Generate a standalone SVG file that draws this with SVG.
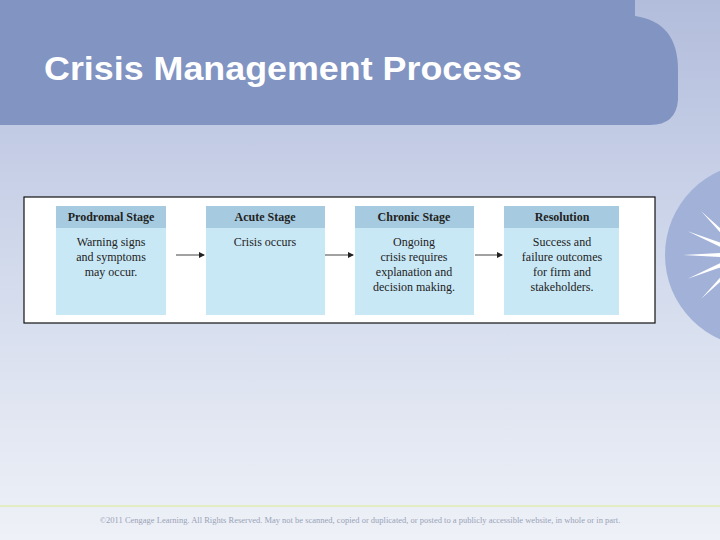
<svg xmlns="http://www.w3.org/2000/svg" width="720" height="540" viewBox="0 0 720 540">
<defs>
<linearGradient id="bg" x1="0" y1="0" x2="0" y2="1"><stop offset="0" stop-color="#b2bddc"/><stop offset="0.5" stop-color="#d2daec"/><stop offset="1" stop-color="#eef1f7"/></linearGradient>
<marker id="ah" markerWidth="6" markerHeight="6" refX="5" refY="3" orient="auto"><path d="M0,0 L6,3 L0,6 z" fill="#222"/></marker>
<style>
.hd{fill:#a6cbe0}.bd{fill:#c9e8f6}
.ht{font-family:"Liberation Serif",serif;font-weight:bold;font-size:12px;fill:#222;text-anchor:middle}
.bt{font-family:"Liberation Serif",serif;font-size:12px;fill:#222;text-anchor:middle}
.cn{stroke:#444;stroke-width:1;fill:none;marker-end:url(#ah)}
</style>
</defs>
<rect width="720" height="540" fill="url(#bg)"/>
<path d="M0,0 H635 V16 Q678,22 678,70 V100 Q676,125 650,125 H0 Z" fill="#8194c2"/>
<text x="44" y="80" font-family="Liberation Sans,Arial,sans-serif" font-weight="bold" font-size="34" fill="#fff" textLength="478" lengthAdjust="spacingAndGlyphs">Crisis Management Process</text>
<circle cx="757" cy="255" r="92" fill="#a2b1d8"/>
<g transform="translate(-12,0)"><polygon fill="#fff" points="819,255 770.7,257.7 814.3,278.7 768.6,262.8 800.8,298.8 764.8,266.6 780.7,312.3 759.7,268.7 757,317 754.3,268.7 733.3,312.3 749.2,266.6 713.2,298.8 745.4,262.8 699.7,278.7 743.3,257.7 695,255 743.3,252.3 699.7,231.3 745.4,247.2 713.2,211.2 749.2,243.4 733.3,197.7 754.3,241.3 757,193 759.7,241.3 780.7,197.7 764.8,243.4 800.8,211.2 768.6,247.2 814.3,231.3 770.7,252.3"/></g>
<line x1="0" y1="506" x2="720" y2="506" stroke="#e4ecc4" stroke-width="2"/>
<text x="360" y="523" font-family="Liberation Serif,serif" font-size="8.5" fill="#9aa3b8" text-anchor="middle">©2011 Cengage Learning. All Rights Reserved. May not be scanned, copied or duplicated, or posted to a publicly accessible website, in whole or in part.</text>
<rect x="24" y="197" width="631" height="126" fill="#fff" stroke="#111" stroke-width="1.2"/>
<g id="n1"><rect class="hd" x="56" y="206" width="110" height="22"/><rect class="bd" x="56" y="228" width="110" height="87"/><text class="ht" x="111" y="221">Prodromal Stage</text><text class="bt" x="111" y="246">Warning signs</text><text class="bt" x="111" y="261">and symptoms</text><text class="bt" x="111" y="276">may occur.</text></g>
<g id="n2"><rect class="hd" x="206" y="206" width="119" height="22"/><rect class="bd" x="206" y="228" width="119" height="87"/><text class="ht" x="265" y="221">Acute Stage</text><text class="bt" x="265" y="246">Crisis occurs</text></g>
<g id="n3"><rect class="hd" x="355" y="206" width="119" height="22"/><rect class="bd" x="355" y="228" width="119" height="87"/><text class="ht" x="414" y="221">Chronic Stage</text><text class="bt" x="414" y="246">Ongoing</text><text class="bt" x="414" y="261">crisis requires</text><text class="bt" x="414" y="276">explanation and</text><text class="bt" x="414" y="291">decision making.</text></g>
<g id="n4"><rect class="hd" x="504" y="206" width="115" height="22"/><rect class="bd" x="504" y="228" width="115" height="87"/><text class="ht" x="562" y="221">Resolution</text><text class="bt" x="562" y="246">Success and</text><text class="bt" x="562" y="261">failure outcomes</text><text class="bt" x="562" y="276">for firm and</text><text class="bt" x="562" y="291">stakeholders.</text></g>
<g id="connectors"><line class="cn" x1="176" y1="255" x2="204" y2="255"/><line class="cn" x1="325" y1="255" x2="353" y2="255"/><line class="cn" x1="475" y1="255" x2="502" y2="255"/></g>
</svg>
